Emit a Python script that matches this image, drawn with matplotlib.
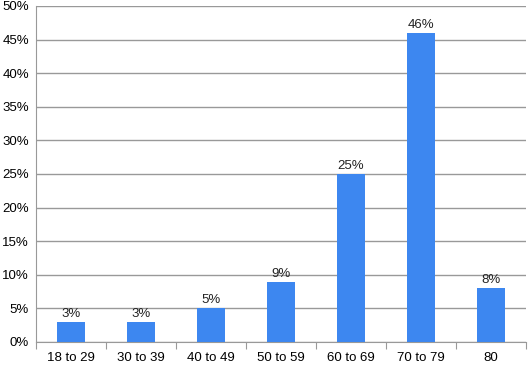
import numpy as np
import matplotlib.pyplot as plt

# data
categories = ["18 to 29", "30 to 39", "40 to 49", "50 to 59", "60 to 69", "70 to 79", "80"]
percents = [3, 3, 5, 9, 25, 46, 8]
yticks = np.arange(0, 51, 5)

plt.rcParams['font.family'] = ['Liberation Sans', 'DejaVu Sans']
fs = 9.5

fig = plt.figure(figsize=(5.29, 3.67), dpi=100)
ax = fig.add_axes([36/529, 25/367, 490/529, 336/367])

x = np.arange(len(categories))
bars = ax.bar(x, percents, width=0.4, color='#3d87f0', zorder=3)

for xi, v in zip(x, percents):
    ax.text(xi, v + 0.3, f"{v}%", ha='center', va='bottom', fontsize=fs, color='#222222')

ax.set_xlim(-0.5, len(categories) - 0.5)
ax.set_ylim(0, 50)
ax.set_yticks(yticks)
ax.set_yticklabels([f"{t}%" for t in yticks], fontsize=fs)
ax.grid(axis='y', color='#999999', linewidth=1, zorder=0)

# category labels centred, ticks on the boundaries
ax.set_xticks(np.arange(-0.5, len(categories)), minor=False)
ax.set_xticklabels([])
ax.set_xticks(x, minor=True)
ax.set_xticklabels(categories, minor=True, fontsize=fs)
ax.tick_params(axis='x', which='major', length=5, color='#999999', direction='out')
ax.tick_params(axis='x', which='minor', length=0, pad=7)
ax.tick_params(axis='y', length=0, pad=5)

for s in ['top', 'right']:
    ax.spines[s].set_visible(False)
ax.spines['left'].set_color('#999999')
ax.spines['bottom'].set_color('#999999')

fig.savefig('out.png', dpi=100)
